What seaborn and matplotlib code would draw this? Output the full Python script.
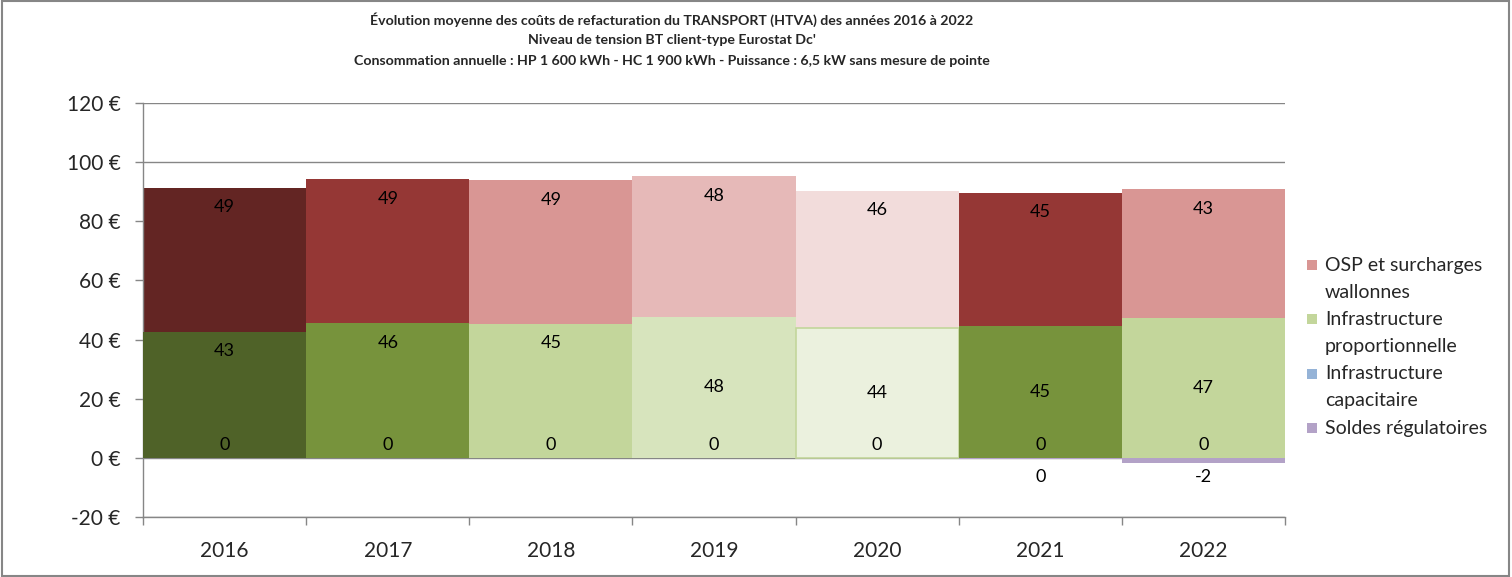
import numpy as np
import pandas as pd
import seaborn as sns
import matplotlib.pyplot as plt
from matplotlib.patches import Rectangle

# --- data ---
years = ["2016", "2017", "2018", "2019", "2020", "2021", "2022"]
osp = [48.7, 48.7, 48.6, 47.7, 46.4, 44.9, 43.4]
infra_prop = [42.6, 45.6, 45.3, 47.6, 43.9, 44.7, 47.4]
infra_cap = [0.0, 0.0, 0.0, 0.0, 0.0, 0.0, 0.0]
soldes = [0.0, 0.0, 0.0, 0.0, 0.0, -0.3, -1.6]

series_names = ["OSP et surcharges\nwallonnes", "Infrastructure\nproportionnelle",
                "Infrastructure\ncapacitaire", "Soldes régulatoires"]

# colours change by year in the original
osp_colors = ["#632523", "#953735", "#D99694", "#E6B9B8", "#F2DCDB", "#953735", "#D99694"]
prop_colors = ["#4F6228", "#77933C", "#C3D69B", "#D7E4BD", "#EBF1DE", "#77933C", "#C3D69B"]
legend_colors = ["#D99694", "#C3D69B", "#95B3D7", "#B3A2C7"]
soldes_color = "#B3A2C7"

# green labels sit at the top for the first years, centred afterwards
prop_label_mode = ["end", "end", "end", "center", "center", "center", "center"]

df = pd.DataFrame({"year": years, "osp": osp, "prop": infra_prop,
                   "cap": infra_cap, "soldes": soldes})
df["total"] = df["prop"] + df["cap"] + df["osp"]
df["prop_top"] = df["prop"] + df["cap"]

sns.set_style("white")
plt.rcParams["font.family"] = ["Lato", "DejaVu Sans"]

W, H = 1512, 577
fig = plt.figure(figsize=(W / 100, H / 100), dpi=100)
ax = fig.add_axes([0.0946, 0.104, 0.7553, 0.7175])

grid_c = "#868686"

# stacked by drawing the cumulative totals first, then the lower layers on top
sns.barplot(data=df, x="year", y="total", hue="year", palette=dict(zip(years, osp_colors)),
            width=1.0, legend=False, ax=ax, linewidth=0, saturation=1, zorder=2)
sns.barplot(data=df, x="year", y="prop_top", hue="year", palette=dict(zip(years, prop_colors)),
            width=1.0, legend=False, ax=ax, linewidth=0, saturation=1, zorder=3)
sns.barplot(data=df, x="year", y="soldes", color=soldes_color,
            width=1.0, ax=ax, linewidth=0, saturation=1, zorder=3)

# the pale 2020 green block has a thin outline
for p in ax.patches:
    if p.get_facecolor()[:3] == plt.matplotlib.colors.to_rgb("#EBF1DE"):
        p.set_edgecolor("#C3D69B")
        p.set_linewidth(1.2)

# --- data labels ---
lab_kw = dict(ha="center", va="center", fontsize=13, color="black", zorder=5)
for i, row in df.iterrows():
    ax.text(i, row["total"] - 6.6, f"{int(round(row['osp']))}", **lab_kw)
    if prop_label_mode[i] == "end":
        y_prop = row["prop_top"] - 6.6
    else:
        y_prop = row["prop_top"] / 2
    ax.text(i, y_prop, f"{int(round(row['prop']))}", **lab_kw)
    ax.text(i, 4.5, f"{int(round(row['cap']))}", **lab_kw)
    if row["soldes"] != 0:
        ax.text(i, -6.6, f"{int(round(row['soldes']))}", **lab_kw)

# --- axes styling ---
ax.set_xlim(-0.5, len(years) - 0.5)
ax.set_ylim(-20, 120)
ax.set_yticks(np.arange(-20, 121, 20))
ax.set_yticklabels([f"{v} €" for v in range(-20, 121, 20)])
ax.yaxis.grid(True, color=grid_c, linewidth=1)
ax.xaxis.grid(False)
ax.set_axisbelow(True)
ax.set_xlabel("")
ax.set_ylabel("")
for s in ["top", "right"]:
    ax.spines[s].set_visible(False)
for s in ["left", "bottom"]:
    ax.spines[s].set_color(grid_c)
    ax.spines[s].set_linewidth(1)
ax.tick_params(axis="y", which="major", length=6, width=1, color=grid_c,
               labelsize=15, pad=10, left=True, direction="out")
ax.tick_params(axis="x", which="major", length=0, labelsize=15, pad=17)
ax.set_xticks(np.arange(-0.5, len(years)), minor=True)
ax.tick_params(axis="x", which="minor", length=6, width=1, color=grid_c,
               bottom=True, direction="out")

# --- title ---
title_lines = ["Évolution moyenne des coûts de refacturation du TRANSPORT (HTVA) des années 2016 à 2022",
               "Niveau de tension BT client-type Eurostat Dc'",
               "Consommation annuelle : HP 1 600 kWh - HC 1 900 kWh - Puissance : 6,5 kW sans mesure de pointe"]
for k, line in enumerate(title_lines):
    fig.text(0.4445, 1 - (20 + 20.5 * k) / H, line, ha="center", va="center",
             fontsize=10.2, fontweight="bold")

# --- legend (drawn by hand so the square sits on the first line, like Excel) ---
y_line = 265      # centre of the first legend line, px from top
line_step = 27.2
for name, c in zip(series_names, legend_colors):
    fig.patches.append(Rectangle((1307 / W, 1 - (y_line + 5) / H), 10 / W, 10 / H,
                                 transform=fig.transFigure, facecolor=c, edgecolor="none"))
    for part in name.split("\n"):
        fig.text(1325 / W, 1 - y_line / H, part, ha="left", va="center", fontsize=14)
        y_line += line_step

# outer chart border
fig.patches.append(Rectangle((0.001, 0.002), 0.997, 0.996, transform=fig.transFigure,
                             fill=False, edgecolor=grid_c, linewidth=1.5))

fig.savefig("out.png", dpi=100)
